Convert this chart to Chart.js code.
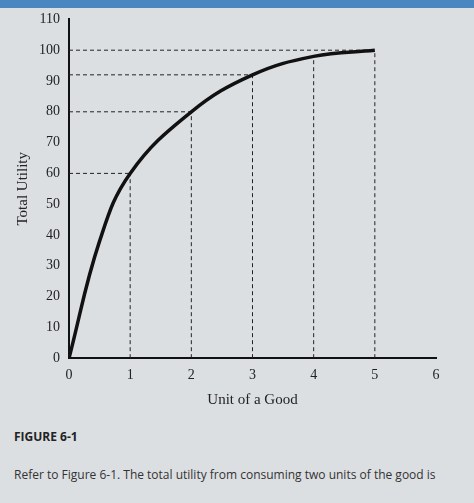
<!DOCTYPE html><html><head><script src="https://cdn.jsdelivr.net/npm/chart.js@4"></script>
<style>body{margin:0;width:474px;height:503px;background:#dcdfe2;overflow:hidden;font-family:"Open Sans",sans-serif}
#top{height:8px;background:#4a86c0}#wrap{position:absolute;left:10px;top:8px;width:440px;height:405px}
#fig{position:absolute;left:14px;top:428px;font-size:12px;font-weight:bold;color:#222}
#txt{position:absolute;left:14px;top:466px;font-size:12px;color:#333}</style></head><body>
<div id="top"></div><div id="wrap"><canvas id="c"></canvas></div>
<div id="fig">FIGURE 6-1</div><div id="txt">Refer to Figure 6-1. The total utility from consuming two units of the good is</div>
<script>
const units=[0,0.5,1,2,3,4,5];
const utility=[0,38,60,80,92,98,100];
const guideUnits=[1,2,3,4,5];
const guideUtil=[60,80,92,98,100];
const hGuide=[1,2,3,5];
const yTicks=[0,10,20,30,40,50,60,70,80,90,100,110];
const ds=[{data:units.map((u,i)=>({x:u,y:utility[i]})),borderColor:'#111',borderWidth:3.5,pointRadius:0,tension:0.4}];
guideUnits.forEach((u,i)=>{ds.push({data:[{x:u,y:0},{x:u,y:guideUtil[i]}],borderColor:'#222',borderWidth:1,borderDash:[4,3],pointRadius:0});
 if(hGuide.includes(u))ds.push({data:[{x:0,y:guideUtil[i]},{x:u,y:guideUtil[i]}],borderColor:'#222',borderWidth:1,borderDash:[4,3],pointRadius:0});});
new Chart(document.getElementById('c'),{type:'line',data:{datasets:ds},options:{responsive:true,maintainAspectRatio:false,animation:false,
plugins:{legend:{display:false},tooltip:{enabled:false}},layout:{padding:{top:4,right:14}},
scales:{x:{type:'linear',min:0,max:6,grid:{display:false,drawTicks:true,tickLength:6},border:{color:'#111',width:2},
ticks:{stepSize:1,color:'#222',font:{family:'Liberation Serif',size:14}},title:{display:true,text:'Unit of a Good',color:'#222',font:{family:'Liberation Serif',size:15}}},
y:{min:0,max:110,afterBuildTicks:a=>{a.ticks=yTicks.map(v=>({value:v}))},grid:{display:false,tickLength:6},border:{color:'#111',width:2},
ticks:{color:'#222',font:{family:'Liberation Serif',size:14}},title:{display:true,text:'Total Utility',color:'#222',font:{family:'Liberation Serif',size:15}}}}}});
</script></body></html>
